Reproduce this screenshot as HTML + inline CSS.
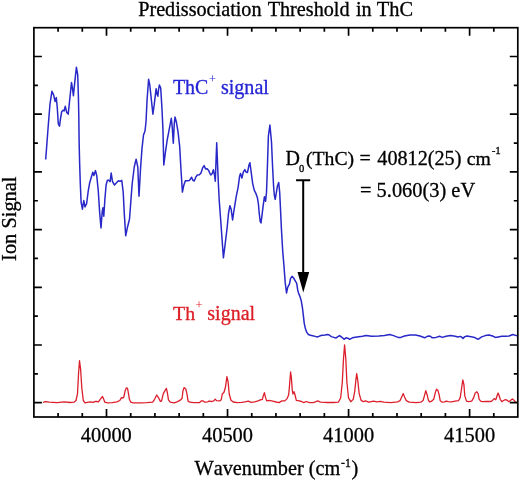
<!DOCTYPE html>
<html><head><meta charset="utf-8"><style>
html,body{margin:0;padding:0;background:#fff;}
body{width:520px;height:481px;overflow:hidden;}
svg{display:block;}
text{font-family:"Liberation Serif","Times New Roman",serif;white-space:pre;}
</style></head><body>
<svg width="520" height="481" viewBox="0 0 520 481">
<rect width="520" height="481" fill="#fff"/>
<polyline transform="translate(0,0.5)" points="43,402 45.2,401.1 49.2,401.7 57.3,402.1 64.2,401.4 70,402 74,401.7 76,400 77.5,393.1 78.6,372.3 79.5,360.2 80.6,368.8 81.8,387.3 83.3,400 85,402.3 88.5,401.7 90.8,401.4 93.1,401.8 95.4,400.9 97.1,401 98.5,401.4 100.2,398.8 102.5,396 103.7,398.8 104.8,401.7 107.7,402.3 112.3,402.1 116.9,401.4 119.8,400 121.5,397.1 122.7,397.7 123.8,396.5 125,390.8 126.4,387.3 127.5,387.9 128.5,393.1 129.4,398.8 130.8,401.7 133.1,402.3 141.2,402.3 146.9,402.1 152.7,401.7 154.6,398.8 156.7,394.5 158.3,396.8 160.4,400.9 161.5,400.6 163.3,393.1 165,390.2 166.4,387.9 167.3,391.9 168.5,399.4 170.2,401.7 174.2,402.3 177.7,401.1 180.6,399.4 182.1,397.7 182.9,390.8 184,387.1 185.8,388.5 186.9,393.1 188.1,400.6 189.8,401.7 193.8,402.1 199.6,402.1 201.7,400.2 203.3,400.6 204.8,401.7 207.7,401.4 208.5,400.6 211.9,401 213.7,400.4 215.2,398.6 216.5,400.1 220,400.4 221.2,399.2 222.3,393.5 224,391.7 225.5,386.5 226.9,376.2 228.1,381.3 229.2,393.5 231,399.8 233.3,401.5 237.3,402.1 241.9,401.8 244.8,401.3 248.3,400.6 251.1,401.8 254.6,401.3 258.1,400.4 261,399.2 262.3,399.2 263.5,394.6 264.4,392.1 265.5,396.9 266.7,400.4 269.2,399.8 272.7,400.6 276.1,401.5 279,402.1 281.9,400.4 284.8,400.4 287.1,398.1 288.6,394.6 289.4,386.5 290.6,371.5 291.4,377.3 292.3,390 292.9,393.5 294,391.2 294.8,393.5 296.3,399.8 299.2,400.4 301.5,401 303.8,402.1 306.1,401 309.6,402.1 313.1,402.1 315.4,401.3 317.7,400.4 320,401.3 321.2,401.7 327.5,402 333.7,402 338.4,401.7 340.7,397.3 342.3,381.7 343.5,358.4 344.6,344.3 345.8,358.4 346.9,381.7 348.5,397.3 350.8,401.2 353.2,398.9 354.7,391.1 355.8,380.2 356.7,373.2 357.8,380.2 359.1,392.6 361,399.6 363.3,401.2 365.6,400.4 368.7,401.7 370,401.4 373.5,400.6 376.9,401.4 380.4,400.9 383.8,401.7 390.8,402.1 397.7,401.4 400,400.2 401.7,396.5 403.2,393.1 404.6,396.5 406.3,400.2 409.2,401.7 416.1,402.1 420.8,401.7 423.1,400 424.4,395.4 425.8,390.2 427.1,394.2 428.3,399.4 429.5,401.4 431.3,400.9 433.7,398.8 435.4,391.9 436.5,388.7 437.9,389.8 439.1,394.2 440.2,400.2 442.3,401.7 444.6,401.4 446.3,400.6 448.1,401.1 451.5,401.4 455,400.6 458.5,400.2 460.2,397.1 461.5,388.5 462.8,379.3 463.9,384 464.8,395.4 466.5,400.6 468.8,401.1 471.7,400.6 473.4,397.7 475.2,392.5 476.9,391.3 478.1,393.1 479.2,398.8 481,400.9 483.1,401.2 486.2,400.8 489.2,401 491.5,400.8 492.7,399.6 494.2,398.1 495.8,399.2 496.9,395.8 498.1,392.5 499.1,395 500.2,398.8 501.9,401.2 503.5,400 505.4,399.2 506.9,399.6 508.8,401.2 510.4,400 512.3,398.5 513.8,399.6 515.5,401.5 517,402.1" fill="none" stroke="#dc1f2c" stroke-width="1.3" stroke-linejoin="round"/>
<polyline points="45.7,159.5 48.3,125 50,104 51.9,91.3 53.6,94.9 55.1,101.5 56.3,97.6 57.3,108 58.3,124 59.5,126.2 60.6,118.2 61.7,111.7 63.1,110.2 64.1,111 65.3,106.3 66.7,112.4 68.2,114.1 69.9,97.8 71.5,82.6 72.6,89.1 73.4,95.7 74.8,81.8 76.4,67.3 77.7,74.6 78.4,96 78.8,116 79.1,141 79.6,162 80.3,183.4 81.1,202.2 82.4,209.2 83.8,200.6 85,206.9 86.6,203.75 88.2,191.25 89.7,182.7 91.3,177.2 92.8,172.2 93.9,175.6 95.5,170.6 96.75,175.6 98.3,191.25 99.6,211.6 101,228 102.2,211.6 103,207.7 103.8,216.25 104.9,199 106.1,185 107.4,180.3 108.7,180.3 110.1,181.6 111.2,173 112.5,181.6 114.5,185 116.7,182.5 118.4,180.8 120,181.3 121.75,180.3 123.2,192 124.25,212.9 125.7,235.8 127.4,227.5 129.5,219.2 130.9,200.4 132.2,183.75 134.25,167 136.1,159.2 137.8,167 139,196.25 140.5,169.2 142,148.3 143.5,135 145,131 146,122 147,101 148.6,79.3 149.8,85 151.1,97.4 152.9,114.2 154.2,104.9 156.1,88.7 156.9,93.7 157.9,96.2 158.5,89.9 159.4,85 160.7,88 161.9,107.4 162.9,128.5 163.8,165 165.5,151.7 167.2,140 168.8,131.7 171.3,118.3 172.2,126.7 173.3,143.3 174.3,123.3 175,117 176.3,121.7 178,131.7 179.7,146.7 181,170 182.4,192.1 183.8,185.3 185.4,180.7 187.4,180.7 189.5,180.4 191.6,177.2 192.8,180.1 194.2,181 195.8,177.2 197.3,175 199.4,174.7 201,172.9 202.5,168.2 204.1,165.6 205.6,168.9 207.2,168.7 208.7,170.6 209.8,173.1 210.8,175 212.2,173.4 213.4,169.8 214.5,175 215.3,181.2 216.7,142.7 218.2,180 219.2,200 220.7,220.3 223.4,257.8 225.1,244.6 227.2,227 228.5,213.5 229.9,205.7 231.2,209.5 232.6,220 233.9,210.8 236.2,196.7 238.1,187.4 239.6,176.2 240.5,173.4 241.9,178 243.3,172.1 244.8,169.6 246.1,172.1 247.5,172.4 249,165 249.9,162.7 251.2,172.4 252.7,183.6 254.2,190.2 256.1,193.9 257.4,197.7 258.4,204 259.3,214 260.2,221.5 261,223 261.9,216.1 263.1,206.2 264.4,196.8 265.6,201.2 266.5,192.4 267.1,176.2 268.4,135.8 269.9,125 271.5,142 272.5,165 273.5,185 274.3,195 275.2,199.3 276.4,192.4 277.4,186.2 278.7,182.5 279.7,192.4 280.6,211.1 281.4,228.6 282.7,251 284,266.2 285.2,282.4 286.5,293 287.7,287.4 289.5,283.9 290.5,278.6 292,276.4 293.6,278 295.4,281.1 296.7,283.4 297.7,289.9 298.5,293 299.8,296.1 301.1,300.2 302.4,307.5 303.4,315.8 304.2,323.1 305.3,328.3 306.8,332.4 308.4,334.5 310.5,335.3 313.6,335.9 316.7,336.9 318.8,336.4 320.9,335.5 325,335.1 327.6,334.5 329.2,335 331.3,336.6 333.9,337.4 335.9,338.1 336.8,337.4 339.6,335.6 341.9,337.4 344.1,339.3 346,337.8 347.8,338.2 349.6,339.3 352.4,337.8 356.9,336.9 362.4,336.3 366.1,335.6 371.6,336.3 378.9,336 384.4,335.6 389.8,334.5 393.5,335.6 398.1,337.4 400.8,337.4 404.5,336 410,335 415.4,335 420,336 424.6,337.8 427.3,336.3 430,336 432.3,337.8 436,337.4 439.6,336.3 442.4,337.4 446,336.3 450.6,335.6 455.2,336.3 458,337 460,336.4 461.5,337 463,338.4 464.8,336.6 467,336 472.5,336.9 475.3,337.8 478,339.3 481.7,336.9 485.3,335.6 489,335 492.6,336 495.4,337.4 498.1,336.9 501.8,336.3 505.4,336.3 509.1,336 512.8,334.5 516.4,335.6 518,336" fill="none" stroke="#2828c8" stroke-width="1.5" stroke-linejoin="round"/>
<rect x="33.9" y="27.7" width="483.90" height="389.30" fill="none" stroke="#000" stroke-width="1.7"/>
<path d="M58.09 417.0v-4M58.09 27.7v4M82.29 417.0v-4M82.29 27.7v4M106.50 417.0v-8M106.50 27.7v8M130.71 417.0v-4M130.71 27.7v4M154.91 417.0v-4M154.91 27.7v4M179.12 417.0v-4M179.12 27.7v4M203.33 417.0v-4M203.33 27.7v4M227.53 417.0v-8M227.53 27.7v8M251.74 417.0v-4M251.74 27.7v4M275.95 417.0v-4M275.95 27.7v4M300.16 417.0v-4M300.16 27.7v4M324.36 417.0v-4M324.36 27.7v4M348.57 417.0v-8M348.57 27.7v8M372.78 417.0v-4M372.78 27.7v4M396.98 417.0v-4M396.98 27.7v4M421.19 417.0v-4M421.19 27.7v4M445.40 417.0v-4M445.40 27.7v4M469.61 417.0v-8M469.61 27.7v8M493.81 417.0v-4M493.81 27.7v4M33.9 56.50h8M517.8 56.50h-8M33.9 85.35h4M517.8 85.35h-4M33.9 114.20h8M517.8 114.20h-8M33.9 143.05h4M517.8 143.05h-4M33.9 171.90h8M517.8 171.90h-8M33.9 200.75h4M517.8 200.75h-4M33.9 229.60h8M517.8 229.60h-8M33.9 258.45h4M517.8 258.45h-4M33.9 287.30h8M517.8 287.30h-8M33.9 316.15h4M517.8 316.15h-4M33.9 345.00h8M517.8 345.00h-8M33.9 373.85h4M517.8 373.85h-4M33.9 402.70h8M517.8 402.70h-8" stroke="#000" stroke-width="1.7" fill="none"/>
<text x="138.2" y="16" font-size="20.2" fill="#000" stroke="#000" stroke-width="0.3">Predissociation</text>
<text x="267.7" y="16" font-size="20.2" fill="#000" stroke="#000" stroke-width="0.3">Threshold</text>
<text x="355.9" y="16" font-size="20.2" fill="#000" stroke="#000" stroke-width="0.3">in</text>
<text x="376.8" y="16" font-size="20.4" fill="#000" stroke="#000" stroke-width="0.3">ThC</text>
<text x="106.3" y="441.5" font-size="20.4" fill="#000" stroke="#000" stroke-width="0.3" text-anchor="middle">40000</text>
<text x="227.5" y="441.5" font-size="20.4" fill="#000" stroke="#000" stroke-width="0.3" text-anchor="middle">40500</text>
<text x="348.6" y="441.5" font-size="20.4" fill="#000" stroke="#000" stroke-width="0.3" text-anchor="middle">41000</text>
<text x="469.6" y="441.5" font-size="20.4" fill="#000" stroke="#000" stroke-width="0.3" text-anchor="middle">41500</text>
<text x="194.6" y="475" font-size="20.4" fill="#000" stroke="#000" stroke-width="0.3">W</text>
<text x="213.7" y="475" font-size="20.26" fill="#000" stroke="#000" stroke-width="0.3">avenumber (cm</text>
<text x="341.1" y="467" font-size="11.7" fill="#000" stroke="#000" stroke-width="0.3">-1</text>
<text x="351.5" y="475" font-size="20.4" fill="#000" stroke="#000" stroke-width="0.3">)</text>
<text transform="translate(16,218.7) rotate(-90)" text-anchor="middle" font-size="20.4" fill="#000" stroke="#000" stroke-width="0.3">Ion Signal</text>
<text x="172.9" y="94" font-size="19.9" fill="#2424d6" stroke="#2424d6" stroke-width="0.3">ThC</text>
<text x="208.9" y="83.2" font-size="12.5" fill="#2424d6" stroke="#2424d6" stroke-width="0">+</text>
<text x="220.9" y="94" font-size="20.1" fill="#2424d6" stroke="#2424d6" stroke-width="0.3">signal</text>
<text x="173.1" y="320" font-size="19.8" fill="#dc1e26" stroke="#dc1e26" stroke-width="0.3">Th</text>
<text x="195.6" y="309.2" font-size="12.5" fill="#dc1e26" stroke="#dc1e26" stroke-width="0">+</text>
<text x="207.3" y="320" font-size="20" fill="#dc1e26" stroke="#dc1e26" stroke-width="0.3">signal</text>
<text x="285.6" y="165" font-size="20" fill="#000" stroke="#000" stroke-width="0.3">D</text>
<text x="299.1" y="172" font-size="10.5" fill="#000" stroke="#000" stroke-width="0.3">0</text>
<text x="306.0" y="165" font-size="19.7" fill="#000" stroke="#000" stroke-width="0.3">(ThC)</text>
<text x="359.6" y="165" font-size="20" fill="#000" stroke="#000" stroke-width="0.3">=</text>
<text x="377.3" y="165" font-size="20.2" fill="#000" stroke="#000" stroke-width="0.3">40812(25)</text>
<text x="466.8" y="165" font-size="19.7" fill="#000" stroke="#000" stroke-width="0.3">cm</text>
<text x="491.7" y="154" font-size="11" fill="#000" stroke="#000" stroke-width="0.3">-1</text>
<text x="360.0" y="197" font-size="20.4" fill="#000" stroke="#000" stroke-width="0.3">= 5.060(3) eV</text>
<path d="M296.1 180.2H310.2M303.2 180.2V273" stroke="#000" stroke-width="2" fill="none"/>
<path d="M297.5 271.9L309.2 271.9L303.3 292.6Z" fill="#000"/>
</svg>
</body></html>
